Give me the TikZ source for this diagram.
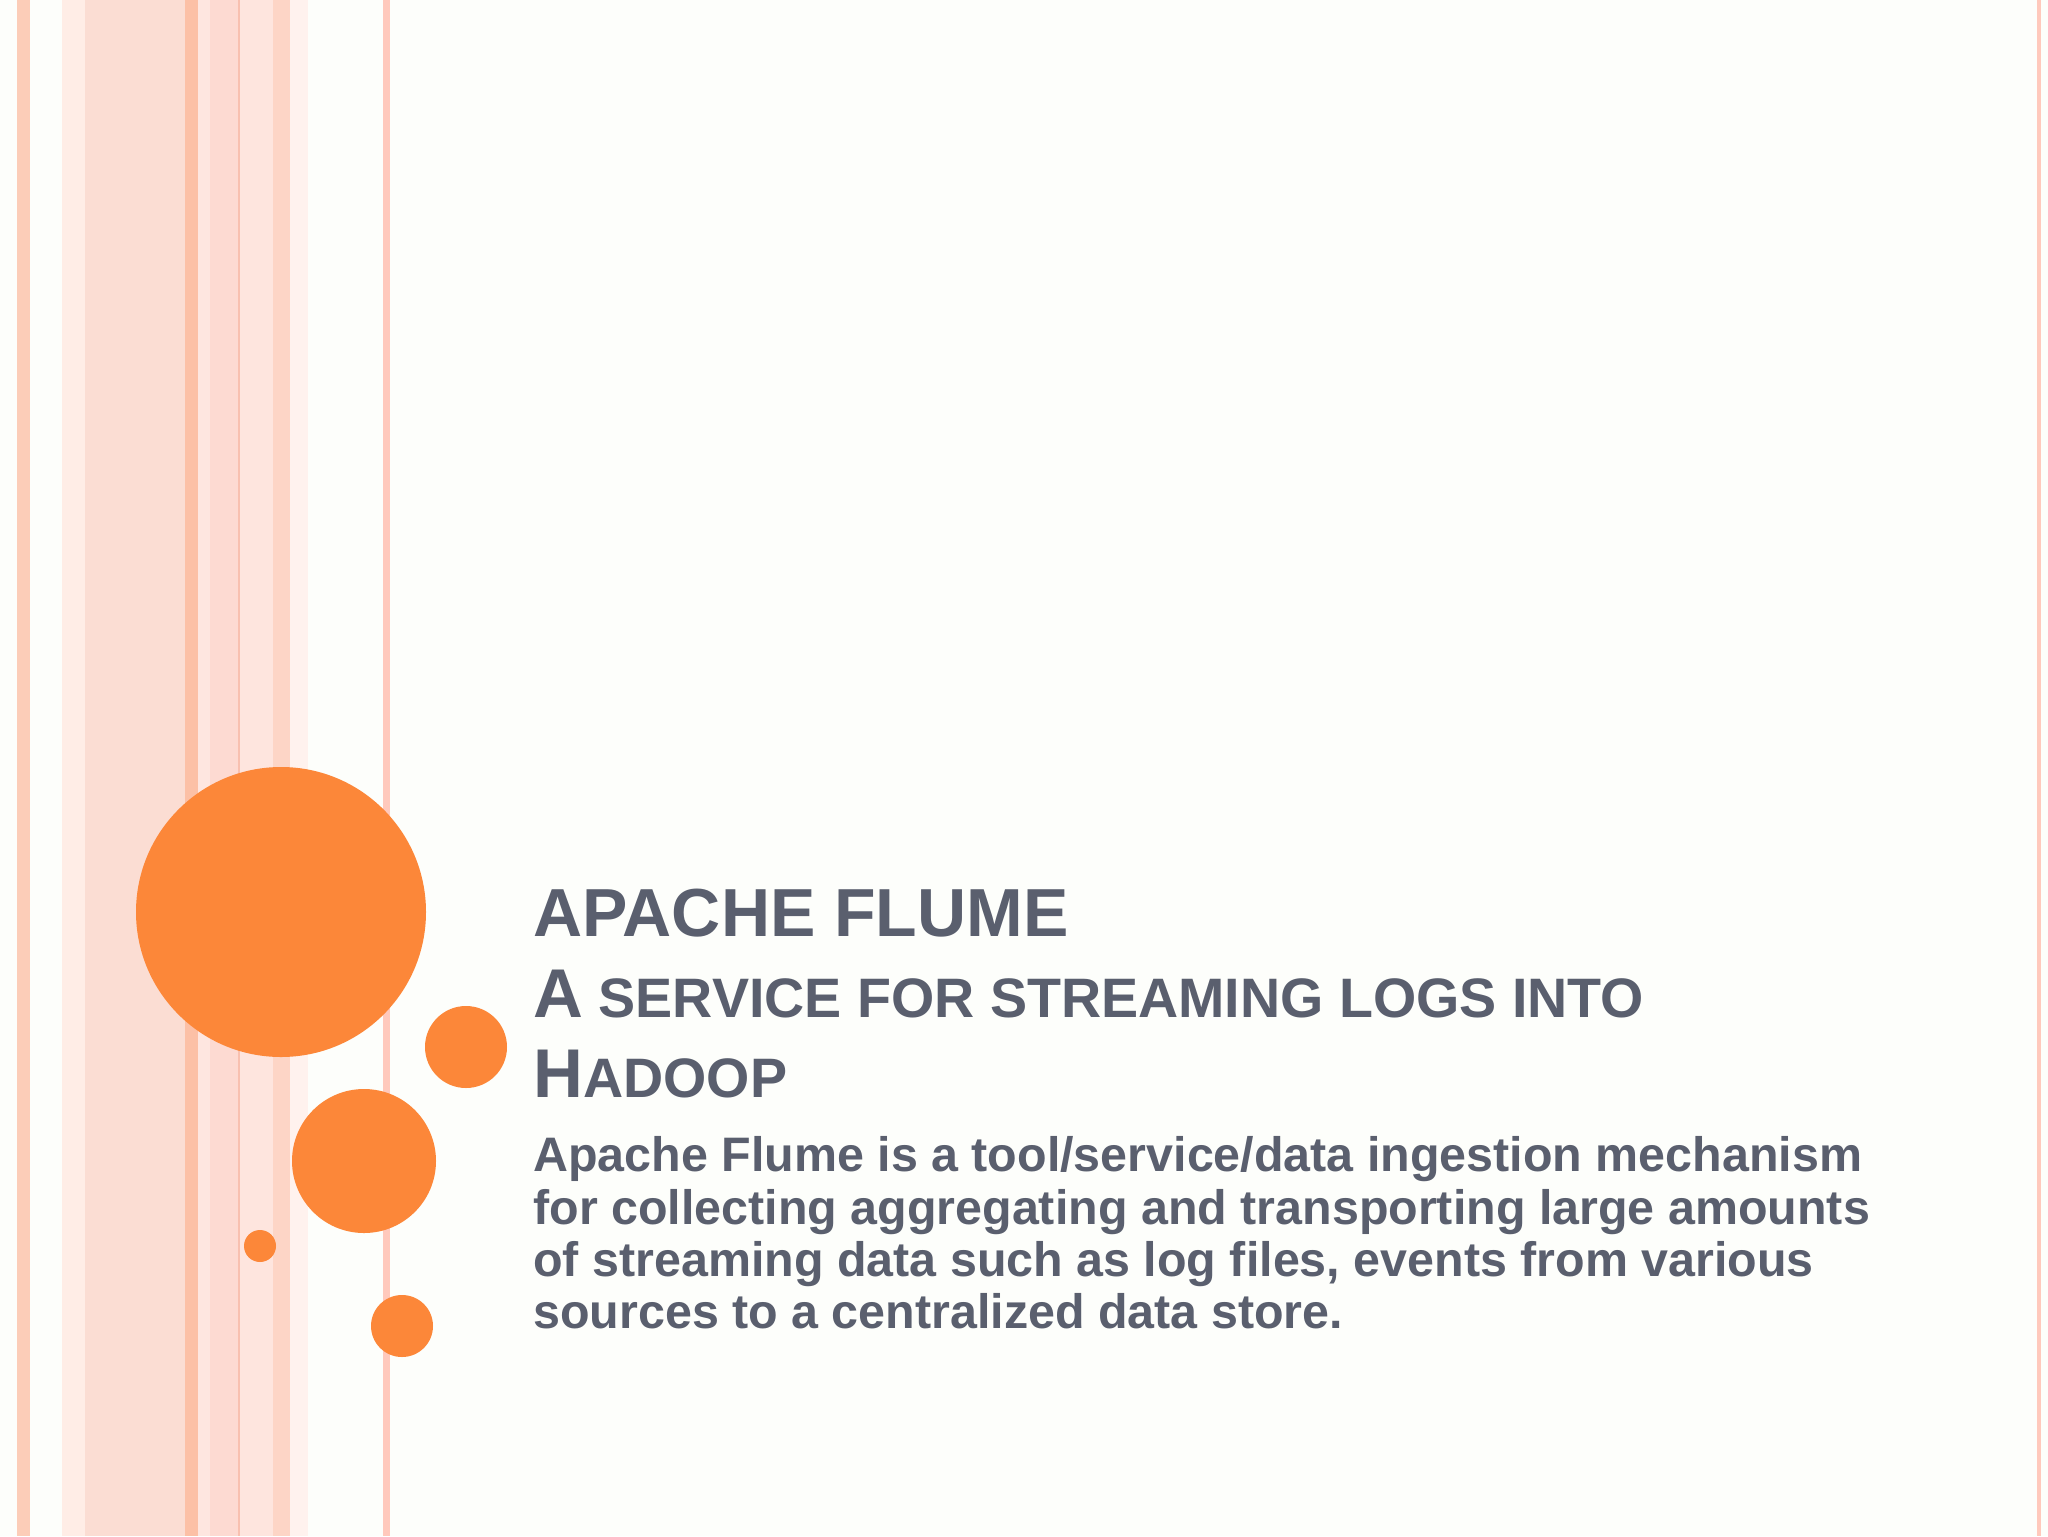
\documentclass[tikz,border=0pt]{standalone}
\usepackage{fontspec}
\setmainfont{Liberation Sans}
\begin{document}
\begin{tikzpicture}[x=0.5pt,y=-0.5pt,
  txt/.style={anchor=base west,inner sep=0pt,text=tc,font=\bfseries},
  dot/.style={fill=oc}]
\definecolor{tc}{HTML}{5A5F6E}
\definecolor{oc}{HTML}{FC8739}
\fill[color={rgb,255:red,253;green,254;blue,251}] (0,0) rectangle (2048,1536);
\useasboundingbox (0,0) rectangle (2048,1536);
\fill[color={rgb,255:red,252;green,205;blue,184}] (17,0) rectangle (30,1536);
\fill[color={rgb,255:red,255;green,237;blue,230}] (62,0) rectangle (85,1536);
\fill[color={rgb,255:red,251;green,221;blue,211}] (85,0) rectangle (185,1536);
\fill[color={rgb,255:red,252;green,192;blue,166}] (185,0) rectangle (198,1536);
\fill[color={rgb,255:red,254;green,230;blue,224}] (198,0) rectangle (210,1536);
\fill[color={rgb,255:red,253;green,218;blue,210}] (210,0) rectangle (238,1536);
\fill[color={rgb,255:red,248;green,192;blue,176}] (238,0) rectangle (240,1536);
\fill[color={rgb,255:red,254;green,229;blue,222}] (240,0) rectangle (273,1536);
\fill[color={rgb,255:red,253;green,213;blue,198}] (273,0) rectangle (290,1536);
\fill[color={rgb,255:red,255;green,242;blue,238}] (290,0) rectangle (308,1536);
\fill[color={rgb,255:red,255;green,201;blue,188}] (383,0) rectangle (390,1536);
\fill[color={rgb,255:red,255;green,201;blue,188}] (2037,0) rectangle (2041,1536);
\fill[dot] (281,912) circle (145);
\fill[dot] (466,1047) circle (41);
\fill[dot] (364,1161) circle (72);
\fill[dot] (260,1246) circle (16);
\fill[dot] (402,1326) circle (31);
\node[txt,font=\bfseries\fontsize{34}{40}\selectfont] (t1) at (533,936) {APACHE FLUME};
\node[txt,font=\bfseries\fontsize{34.5}{40}\selectfont] (t2) at (533,1017) {A\fontsize{27.8}{30}\selectfont{} SERVICE FOR STREAMING LOGS INTO};
\node[txt,font=\bfseries\fontsize{34.5}{40}\selectfont] (t3) at (533,1097) {H\fontsize{27.8}{30}\selectfont ADOOP};
\node[txt,font=\bfseries\fontsize{24.2}{26}\selectfont] (b1) at (533,1171) {Apache Flume is a tool/service/data ingestion mechanism};
\node[txt,font=\bfseries\fontsize{24.2}{26}\selectfont] (b2) at (533,1224) {for collecting aggregating and transporting large amounts};
\node[txt,font=\bfseries\fontsize{24.2}{26}\selectfont] (b3) at (533,1276) {of streaming data such as log files, events from various};
\node[txt,font=\bfseries\fontsize{24.2}{26}\selectfont] (b4) at (533,1328) {sources to a centralized data store.};
\end{tikzpicture}
\end{document}
